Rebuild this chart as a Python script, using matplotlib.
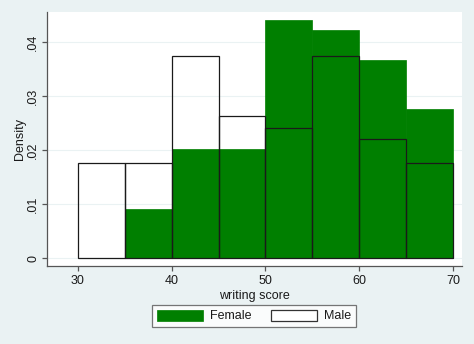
import matplotlib
matplotlib.use("Agg")
import matplotlib.pyplot as plt
from matplotlib.patches import Patch

# Histogram bins of writing score (width 5)
female_left = [35, 40, 45, 50, 55, 60, 65]
female_density = [0.00917, 0.02018, 0.02018, 0.04404, 0.04220, 0.03670, 0.02752]
male_left = [30, 35, 40, 45, 50, 55, 60, 65]
male_density = [0.01758, 0.01758, 0.03736, 0.02637, 0.02418, 0.03736, 0.02198, 0.01758]
bin_width = 5

x_ticks = [30, 40, 50, 60, 70]
y_ticks = [0, 0.01, 0.02, 0.03, 0.04]
y_tick_labels = ["0", ".01", ".02", ".03", ".04"]

plt.rcParams['font.family'] = ['Liberation Sans', 'DejaVu Sans']

fig = plt.figure(figsize=(4.74, 3.44), dpi=100)
fig.patch.set_facecolor('#EAF2F3')
ax = fig.add_axes([47/474, 1 - 266/344, (462 - 47)/474, (266 - 12)/344])
ax.set_facecolor('white')

green = '#007F00'
ax.bar(female_left, female_density, width=bin_width, align='edge',
       color=green, edgecolor=green, linewidth=0.5, zorder=2, label='Female')
ax.bar(male_left, male_density, width=bin_width, align='edge',
       facecolor='none', edgecolor='#1a1a1a', linewidth=0.9, zorder=3, label='Male')

ax.set_xlim(26.73, 70.93)
ax.set_ylim(-0.00142, 0.04553)

ax.set_xticks(x_ticks)
ax.set_yticks(y_ticks)
ax.set_yticklabels(y_tick_labels, rotation=90, va='center')
ax.grid(axis='y', color='#EAF2F3', linewidth=0.8, zorder=0)
ax.set_axisbelow(True)

for s in ['top', 'right']:
    ax.spines[s].set_visible(False)
for s in ['left', 'bottom']:
    ax.spines[s].set_color('#555555')
    ax.spines[s].set_linewidth(0.9)

ax.tick_params(direction='out', length=3.6, width=0.9, color='#555555',
               labelsize=9, labelcolor='#1a1a1a')
ax.tick_params(axis='x', pad=3)
ax.tick_params(axis='y', pad=2)

ax.set_xlabel('writing score', fontsize=9, color='#1a1a1a', labelpad=2)
ax.set_ylabel('Density', fontsize=9, color='#1a1a1a', labelpad=1)

handles = [Patch(facecolor=green, edgecolor=green, linewidth=0.5),
           Patch(facecolor='white', edgecolor='#333333', linewidth=0.9)]
leg = fig.legend(handles, ['Female', 'Male'], loc='center',
                 bbox_to_anchor=(254/474, 1 - 316/344), ncol=2,
                 fontsize=9, frameon=True, fancybox=False,
                 handlelength=3.7, handleheight=1.0, handletextpad=0.6,
                 columnspacing=1.5, borderpad=0.38)
leg.get_frame().set_edgecolor('#555555')
leg.get_frame().set_linewidth(0.9)
leg.get_frame().set_facecolor('white')
for t in leg.get_texts():
    t.set_color('#1a1a1a')

fig.savefig('out.png', dpi=100, facecolor=fig.get_facecolor())
